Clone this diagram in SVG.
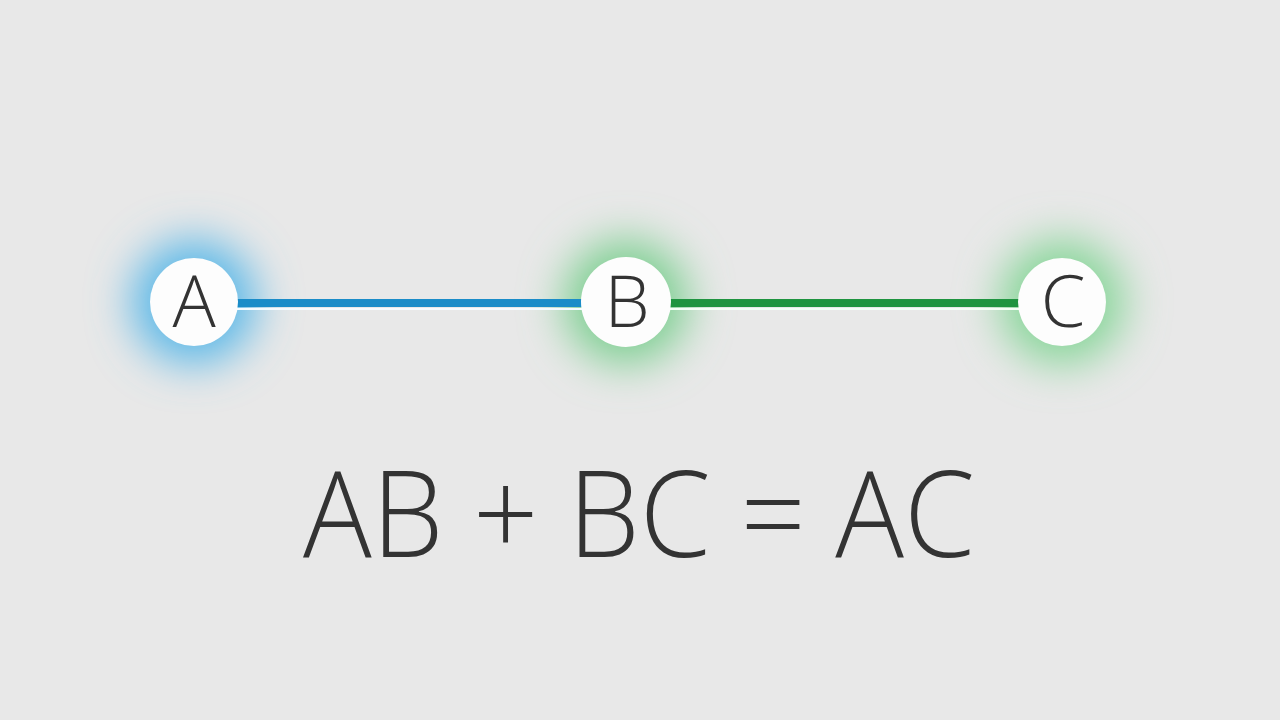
<svg xmlns="http://www.w3.org/2000/svg" width="1280" height="720" viewBox="0 0 1280 720">
<style>
.lbl{font-family:"Open Sans","Liberation Sans",sans-serif;font-weight:300;fill:#333;text-anchor:middle}
.node{fill:#fdfdfd}
</style>
<defs>
<filter id="glow" x="-150%" y="-150%" width="400%" height="400%"><feGaussianBlur stdDeviation="22"/></filter>
<filter id="lglow" x="-10%" y="-300%" width="120%" height="700%"><feGaussianBlur stdDeviation="8"/></filter>
</defs>
<rect width="1280" height="720" fill="#e8e8e8"/>
<g id="glows">
<line x1="194" y1="304" x2="626" y2="304" stroke="#9ccfe8" stroke-width="18" filter="url(#lglow)" opacity="0.6"/>
<line x1="626" y1="304" x2="1062" y2="304" stroke="#a8d9b0" stroke-width="18" filter="url(#lglow)" opacity="0.6"/>
<circle cx="194" cy="302" r="62" fill="#5ab8e8" filter="url(#glow)"/>
<circle cx="626" cy="302" r="62" fill="#7ccf90" filter="url(#glow)"/>
<circle cx="1062" cy="302" r="62" fill="#86d698" filter="url(#glow)"/>
</g>
<g id="connectors">
<line x1="194" y1="303" x2="626" y2="303" stroke="#1a8cc8" stroke-width="8"/>
<line x1="194" y1="309" x2="626" y2="309" stroke="#f4fbff" stroke-width="2"/>
<line x1="626" y1="303" x2="1062" y2="303" stroke="#1f9440" stroke-width="8"/>
<line x1="626" y1="309" x2="1062" y2="309" stroke="#f4fff6" stroke-width="2"/>
</g>
<g id="node-A"><circle class="node" cx="194" cy="302" r="44"/><text class="lbl" x="194" y="327" font-size="72">A</text></g>
<g id="node-B"><circle class="node" cx="626" cy="302" r="45"/><text class="lbl" x="627" y="327" font-size="72">B</text></g>
<g id="node-C"><circle class="node" cx="1062" cy="302" r="44"/><text class="lbl" x="1063" y="327" font-size="72">C</text></g>
<g id="equation"><text class="lbl" x="639" y="557" font-size="120" textLength="672" lengthAdjust="spacingAndGlyphs">AB + BC = AC</text></g>
</svg>
